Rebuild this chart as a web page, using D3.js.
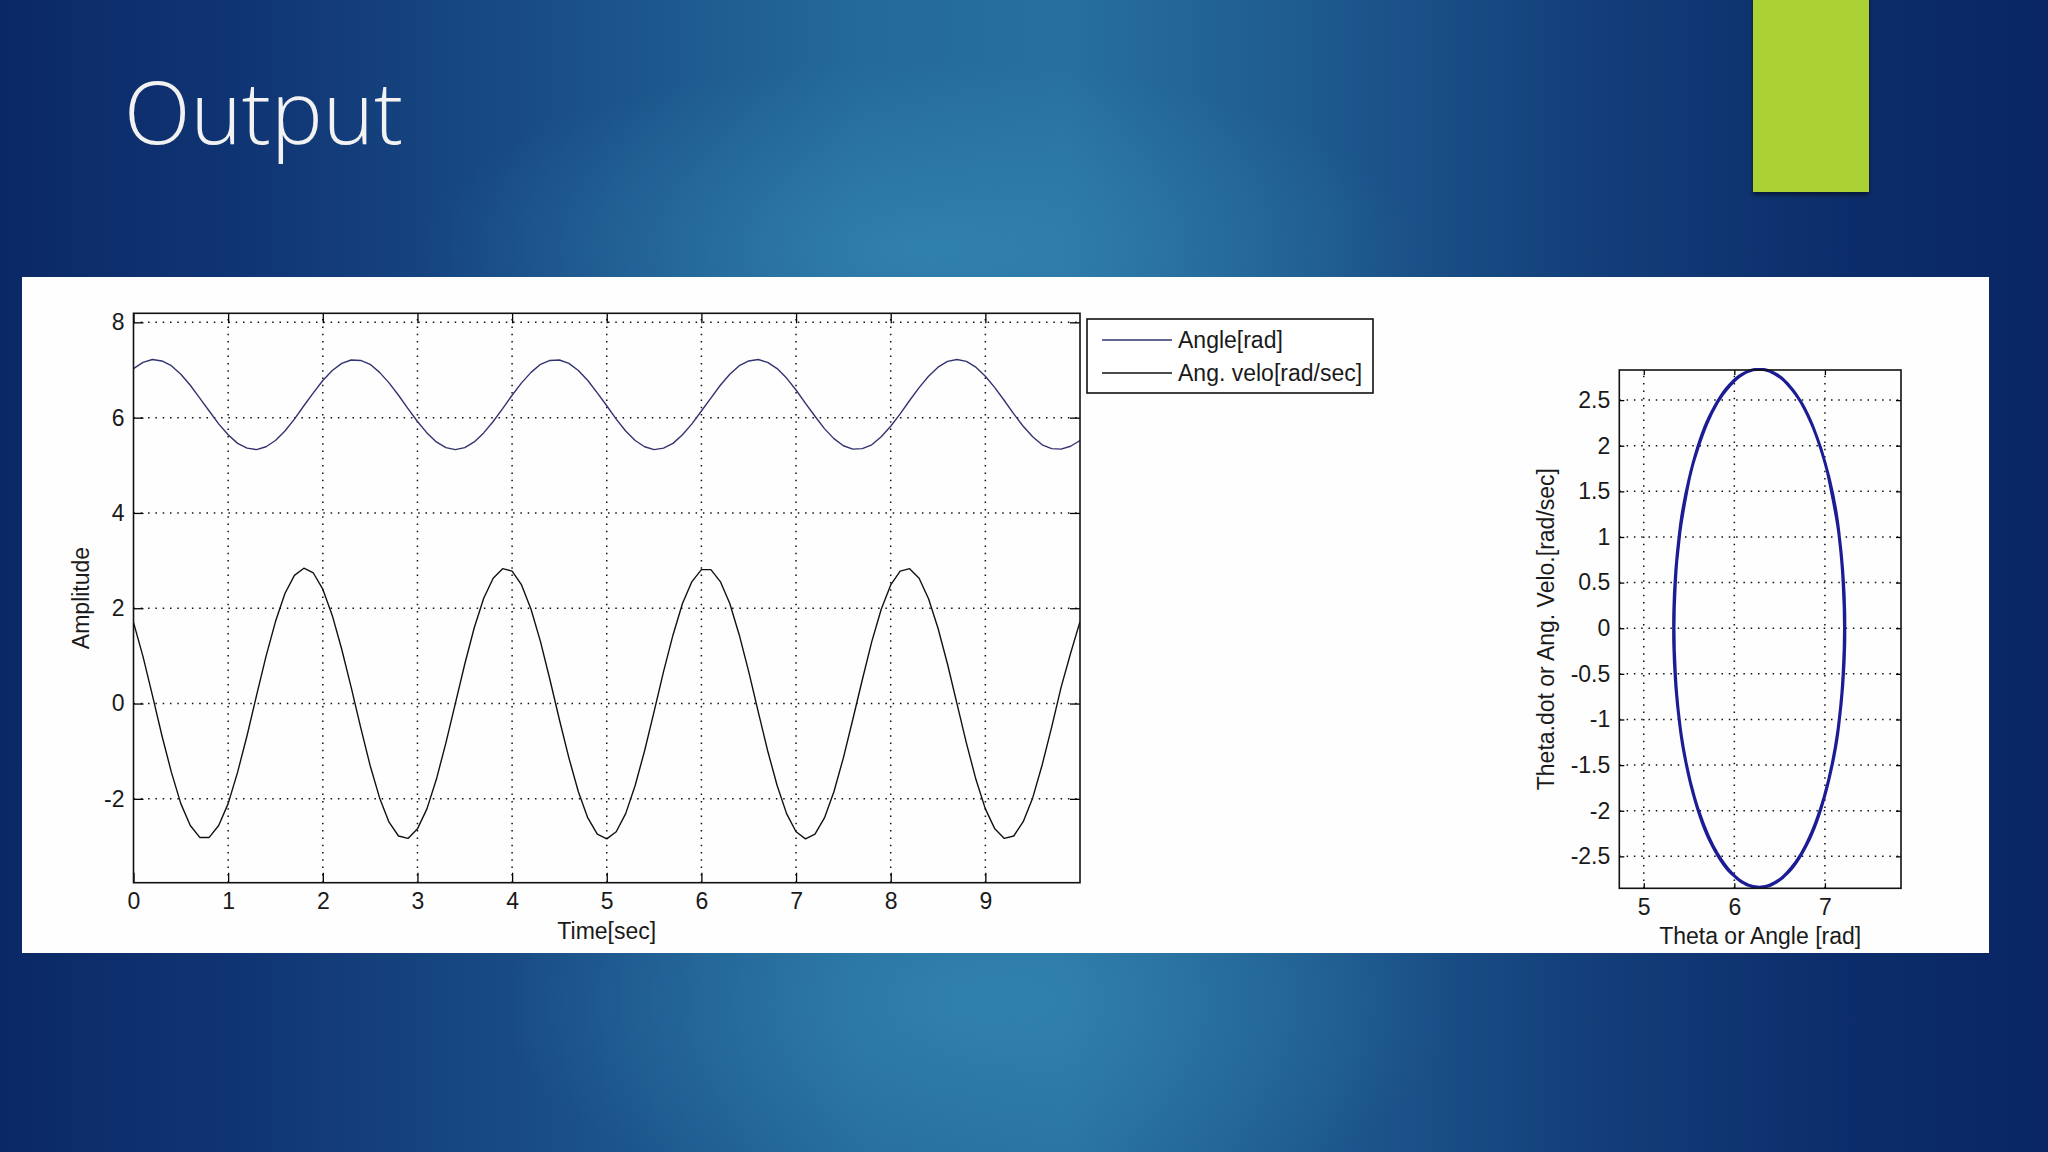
<!DOCTYPE html>
<html>
<head>
<meta charset="utf-8">
<script src="https://cdn.jsdelivr.net/npm/d3@7"></script>
<style>
  html, body { margin: 0; padding: 0; background: #0c2a68; }
  svg { display: block; }
  text { font-family: "Liberation Sans", Arial, sans-serif; }
</style>
</head>
<body>
<script>
// sampling step of the simulation (sec)
const dt = 0.1;

// angle theta [rad], one value per 0.1 s from t = 0 to 10
const angle = [
  7.03, 7.16, 7.22, 7.19, 7.09, 6.91, 6.68, 6.41, 6.14, 5.87,
  5.64, 5.46, 5.36, 5.33, 5.39, 5.52, 5.72, 5.97, 6.25, 6.52,
  6.78, 6.99, 7.14, 7.21, 7.20, 7.12, 6.95, 6.73, 6.47, 6.19,
  5.92, 5.68, 5.49, 5.37, 5.33, 5.37, 5.49, 5.68, 5.92, 6.19,
  6.47, 6.73, 6.95, 7.12, 7.20, 7.21, 7.14, 6.99, 6.78, 6.52,
  6.25, 5.97, 5.72, 5.52, 5.39, 5.33, 5.36, 5.46, 5.64, 5.87,
  6.14, 6.41, 6.68, 6.91, 7.09, 7.19, 7.22, 7.16, 7.03, 6.83,
  6.58, 6.30, 6.03, 5.77, 5.56, 5.41, 5.34, 5.35, 5.43, 5.60,
  5.82, 6.08, 6.36, 6.63, 6.87, 7.06, 7.18, 7.22, 7.18, 7.06,
  6.87, 6.63, 6.36, 6.08, 5.82, 5.60, 5.43, 5.35, 5.34, 5.40,
  5.52
];

// angular velocity [rad/sec], the lower curve
const velocity = [
  1.70, 0.99, 0.17, -0.67, -1.44, -2.10, -2.56, -2.81, -2.81, -2.56,
  -2.10, -1.44, -0.67, 0.17, 0.99, 1.72, 2.31, 2.69, 2.84, 2.74,
  2.40, 1.85, 1.14, 0.34, -0.50, -1.30, -1.98, -2.49, -2.78, -2.83,
  -2.63, -2.21, -1.59, -0.83, 0.00, 0.83, 1.59, 2.21, 2.63, 2.83,
  2.78, 2.49, 1.98, 1.30, 0.50, -0.34, -1.14, -1.85, -2.40, -2.74,
  -2.84, -2.69, -2.31, -1.72, -0.99, -0.17, 0.67, 1.44, 2.10, 2.56,
  2.81, 2.81, 2.56, 2.10, 1.44, 0.67, -0.17, -0.99, -1.72, -2.31,
  -2.69, -2.84, -2.74, -2.40, -1.85, -1.14, -0.33, 0.50, 1.30, 1.98,
  2.49, 2.78, 2.83, 2.63, 2.20, 1.58, 0.83, 0.00, -0.83, -1.59,
  -2.21, -2.63, -2.83, -2.78, -2.48, -1.98, -1.29, -0.50, 0.34, 1.05,
  1.72
];

const seriesNames = ["Angle[rad]", "Ang. velo[rad/sec]"];
const timeTicks = [0, 1, 2, 3, 4, 5, 6, 7, 8, 9];
const ampTicks = [-2, 0, 2, 4, 6, 8];
const thetaTicks = [5, 6, 7];
const velTicks = [-2.5, -2, -1.5, -1, -0.5, 0, 0.5, 1, 1.5, 2, 2.5];

const W = 2048, H = 1152;

// matlab style labels use a plain hyphen for minus
const fmt = d => String(d);

const svg = d3.select("body").append("svg")
    .attr("width", W)
    .attr("height", H);

// ---- slide background ----
const defs = svg.append("defs");
const bg = defs.append("linearGradient").attr("id", "bg")
    .attr("x1", 0).attr("y1", 0).attr("x2", 1).attr("y2", 0);
[[0, "#0b2866"], [0.12, "#103574"], [0.28, "#1a5088"], [0.42, "#246a9b"],
 [0.52, "#27709f"], [0.64, "#1e5a8f"], [0.78, "#133e79"], [0.9, "#0c2d6b"], [1, "#0a2664"]]
  .forEach(([o, c]) => bg.append("stop").attr("offset", o).attr("stop-color", c));

const glow = defs.append("radialGradient").attr("id", "glow");
glow.append("stop").attr("offset", 0).attr("stop-color", "#3b93bd").attr("stop-opacity", 0.5);
glow.append("stop").attr("offset", 1).attr("stop-color", "#3b93bd").attr("stop-opacity", 0);

const shade = defs.append("filter").attr("id", "shade")
    .attr("x", "-20%").attr("y", "-20%").attr("width", "140%").attr("height", "140%");
shade.append("feDropShadow").attr("dx", 0).attr("dy", 3).attr("stdDeviation", 2)
    .attr("flood-color", "#000").attr("flood-opacity", 0.5);

svg.append("rect").attr("width", W).attr("height", H).attr("fill", "url(#bg)");
svg.append("ellipse").attr("cx", 920).attr("cy", 250).attr("rx", 500).attr("ry", 190)
    .attr("fill", "url(#glow)");
svg.append("ellipse").attr("cx", 980).attr("cy", 1000).attr("rx", 480).attr("ry", 220)
    .attr("fill", "url(#glow)");

// green accent block
svg.append("rect")
    .attr("x", 1753).attr("y", -10).attr("width", 116).attr("height", 202)
    .attr("fill", "#acd135")
    .attr("filter", "url(#shade)");

// title
svg.append("text")
    .attr("x", 124).attr("y", 144)
    .style("font-family", "'Open Sans', 'Noto Sans', sans-serif")
    .style("font-weight", 300)
    .style("font-size", "87px")
    .attr("fill", "#f2f2f2")
    .text("Output");

// white figure panel
svg.append("rect")
    .attr("x", 22).attr("y", 277).attr("width", 1967).attr("height", 676)
    .attr("fill", "#fefefe");

// ---- shared helpers ----
function grid(g, xs, ys, x, y) {
  const [x0, x1] = x.range();
  const [y0, y1] = y.range();
  g.selectAll(".gx").data(xs).join("line").attr("class", "gx")
      .attr("x1", d => x(d)).attr("x2", d => x(d))
      .attr("y1", y0).attr("y2", y1);
  g.selectAll(".gy").data(ys).join("line").attr("class", "gy")
      .attr("x1", x0).attr("x2", x1)
      .attr("y1", d => y(d)).attr("y2", d => y(d));
  g.selectAll("line")
      .attr("stroke", "#111")
      .attr("stroke-width", 1.5)
      .attr("stroke-dasharray", "1.5,5.8");
}

function axes(g, x, y, xt, yt, tick) {
  const [x0, x1] = x.range();
  const [y0, y1] = y.range();
  const style = sel => {
    sel.select(".domain").remove();
    sel.selectAll(".tick line").attr("stroke", "#000").attr("stroke-width", 1.3);
    sel.selectAll(".tick text").attr("fill", "#1a1a1a").style("font-size", "23px")
        .style("font-family", "'Liberation Sans', Arial, sans-serif");
  };
  g.append("g").attr("transform", `translate(0,${y0})`)
      .call(d3.axisBottom(x).tickValues(xt).tickFormat(fmt).tickSizeInner(-tick).tickSizeOuter(0).tickPadding(10))
      .call(style);
  g.append("g").attr("transform", `translate(0,${y1})`)
      .call(d3.axisTop(x).tickValues(xt).tickFormat("").tickSizeInner(-tick).tickSizeOuter(0))
      .call(style);
  g.append("g").attr("transform", `translate(${x0},0)`)
      .call(d3.axisLeft(y).tickValues(yt).tickFormat(fmt).tickSizeInner(-tick).tickSizeOuter(0).tickPadding(9))
      .call(style);
  g.append("g").attr("transform", `translate(${x1},0)`)
      .call(d3.axisRight(y).tickValues(yt).tickFormat("").tickSizeInner(-tick).tickSizeOuter(0))
      .call(style);
  g.append("rect")
      .attr("x", x0).attr("y", y1).attr("width", x1 - x0).attr("height", y0 - y1)
      .attr("fill", "none").attr("stroke", "#111").attr("stroke-width", 1.6);
}

// ---- left plot: time series ----
const x1 = d3.scaleLinear().domain([0, 10]).range([133.5, 1080]);
const y1 = d3.scaleLinear().domain([-3.76, 8.19]).range([882.7, 313.3]);

const left = svg.append("g");
grid(left.append("g"), timeTicks.slice(1), ampTicks, x1, y1);

defs.append("clipPath").attr("id", "clipL").append("rect")
    .attr("x", 133.5).attr("y", 313.3).attr("width", 1080 - 133.5).attr("height", 882.7 - 313.3);

const lineT = (arr) => d3.line()
    .x((d, i) => x1(i * dt))
    .y(d => y1(d))(arr);

const seriesColors = ["#333370", "#111111"];
left.append("g").attr("clip-path", "url(#clipL)")
  .selectAll("path").data([angle, velocity]).join("path")
    .attr("d", d => lineT(d))
    .attr("fill", "none")
    .attr("stroke", (d, i) => seriesColors[i])
    .attr("stroke-width", 1.4)
    .attr("stroke-linejoin", "round");

axes(left, x1, y1, timeTicks, ampTicks, 10);

left.append("text")
    .attr("x", (133.5 + 1080) / 2).attr("y", 939)
    .attr("text-anchor", "middle")
    .style("font-size", "23px").attr("fill", "#1a1a1a")
    .text("Time[sec]");

left.append("text")
    .attr("transform", `translate(89,${(313.3 + 882.7) / 2}) rotate(-90)`)
    .attr("text-anchor", "middle")
    .style("font-size", "23px").attr("fill", "#1a1a1a")
    .text("Amplitude");

// legend
const legend = svg.append("g");
legend.append("rect")
    .attr("x", 1087).attr("y", 319).attr("width", 286).attr("height", 74)
    .attr("fill", "#fff").attr("stroke", "#111").attr("stroke-width", 1.6);
const items = legend.selectAll(".item").data(seriesNames).join("g")
    .attr("class", "item")
    .attr("transform", (d, i) => `translate(0,${340 + i * 33})`);
items.append("line")
    .attr("x1", 1102).attr("x2", 1172)
    .attr("stroke", (d, i) => seriesColors[i]).attr("stroke-width", 1.4);
items.append("text")
    .attr("x", 1178).attr("dy", "0.36em")
    .style("font-size", "23px").attr("fill", "#1a1a1a")
    .text(d => d);

// ---- right plot: phase portrait ----
const x2 = d3.scaleLinear().domain([4.73, 7.84]).range([1619.3, 1901]);
const y2 = d3.scaleLinear().domain([-2.85, 2.83]).range([888.3, 370]);

const right = svg.append("g");
grid(right.append("g"), thetaTicks, velTicks, x2, y2);

defs.append("clipPath").attr("id", "clipR").append("rect")
    .attr("x", 1619.3).attr("y", 368).attr("width", 1901 - 1619.3).attr("height", 888.3 - 366);

const phase = angle.map((a, i) => [a, velocity[i]]);
right.append("path")
    .attr("clip-path", "url(#clipR)")
    .attr("d", d3.line().x(d => x2(d[0])).y(d => y2(d[1])).curve(d3.curveCatmullRom)(phase))
    .attr("fill", "none")
    .attr("stroke", "#1c1c94")
    .attr("stroke-width", 2.8)
    .attr("stroke-linejoin", "round");

axes(right, x2, y2, thetaTicks, velTicks, 5);

right.append("text")
    .attr("x", (1619.3 + 1901) / 2).attr("y", 944)
    .attr("text-anchor", "middle")
    .style("font-size", "23px").attr("fill", "#1a1a1a")
    .text("Theta or Angle [rad]");

right.append("text")
    .attr("transform", `translate(1554,${(370 + 888.3) / 2}) rotate(-90)`)
    .attr("text-anchor", "middle")
    .style("font-size", "23px").attr("fill", "#1a1a1a")
    .text("Theta.dot or Ang. Velo.[rad/sec]");
</script>
</body>
</html>
